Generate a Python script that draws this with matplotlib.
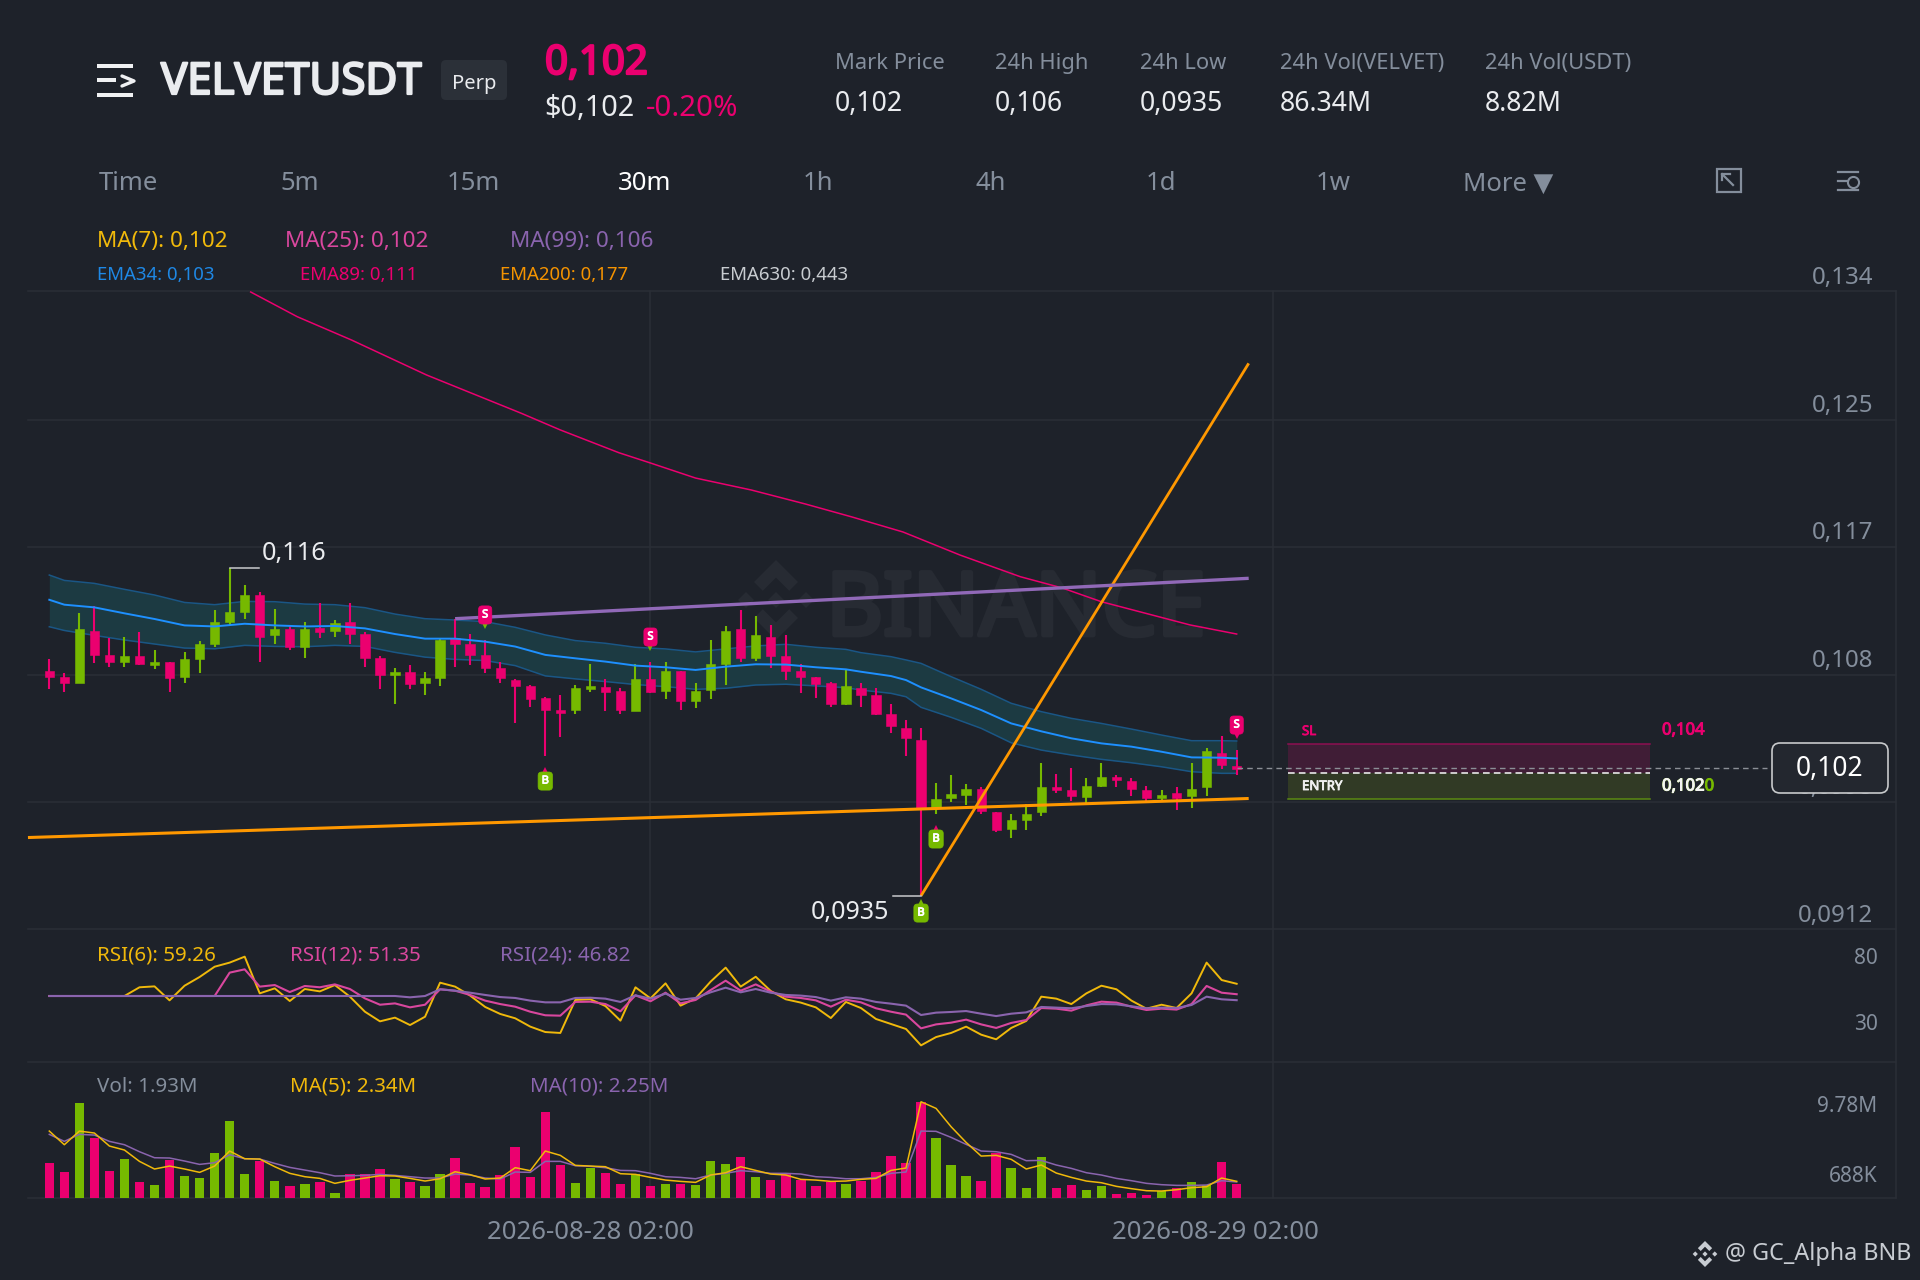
import numpy as np
import matplotlib
matplotlib.use("Agg")
import matplotlib.pyplot as plt
import matplotlib.patheffects as pe
from matplotlib.patches import Polygon, Rectangle, FancyBboxPatch
from matplotlib.transforms import offset_copy

plt.rcParams['font.family'] = ['Noto Sans', 'DejaVu Sans']

BG = '#1E222A'; GRID = '#2A2E36'; GREEN = '#76B900'; RED = '#EB006F'; GREY = '#848E9C'
YEL = '#F0B90B'; PINK = '#D9479E'; PURP = '#8A64AE'; BLUE = '#1E90FF'; ORANGE = '#FF9800'

# ---- candles, prices in thousandths of USDT ----
candle_high = [109.30,108.40,112.39,112.88,110.71,110.80,111.11,109.90,109.12,109.81,110.51,112.61,115.41,114.29,113.80,112.70,111.51,111.80,113.10,111.92,
113.10,111.16,109.50,108.72,108.92,108.43,110.71,112.01,111.01,110.60,109.13,108.01,107.61,106.80,106.89,107.61,109.01,108.01,107.40,109.01,
109.13,109.13,108.52,107.72,110.60,111.52,112.62,112.21,111.61,110.92,109.01,108.12,107.81,108.61,107.72,107.35,106.30,105.20,104.71,101.02,
101.53,100.93,100.71,99.03,98.92,99.61,102.32,101.62,102.00,101.33,102.32,101.53,101.31,100.82,100.53,100.73,102.32,103.32,104.13,103.21]
candle_top = [108.52,108.12,111.31,111.20,109.59,109.52,109.52,109.12,109.12,109.32,110.30,111.80,112.50,113.59,113.59,111.31,111.31,111.31,111.40,111.71,
111.80,111.00,109.41,108.43,108.43,108.02,110.60,110.71,110.31,109.60,108.72,107.92,107.52,106.71,105.90,107.40,107.52,107.43,107.20,108.01,
108.01,108.52,108.52,107.20,109.01,111.21,111.32,110.92,110.83,109.53,108.52,108.12,107.72,107.52,107.40,106.90,105.61,104.71,103.91,99.92,
100.24,100.62,100.62,99.03,98.51,98.92,100.73,100.73,100.53,100.82,101.42,101.42,101.13,100.53,100.21,100.33,100.62,103.12,103.01,102.12]
candle_bottom = [108.12,107.71,107.71,109.61,109.12,109.12,109.01,108.92,108.02,108.12,109.32,110.30,111.80,112.50,110.82,110.91,110.13,110.13,111.13,111.20,
111.02,109.41,108.22,108.22,107.62,107.71,108.02,110.33,109.62,108.72,108.03,107.52,106.62,105.90,105.70,105.90,107.31,107.11,105.90,105.81,
107.11,107.20,106.51,106.51,107.22,109.01,109.42,109.42,109.53,108.52,108.12,107.63,106.31,106.31,106.91,105.63,104.85,104.04,99.32,99.32,
100.01,100.21,99.12,97.82,97.93,98.51,99.03,100.53,100.12,100.03,100.82,101.22,100.62,100.01,100.01,100.01,100.12,100.73,102.21,101.91]
candle_low = [107.33,107.13,107.71,109.03,108.81,108.81,108.92,108.63,107.13,107.71,108.40,110.13,111.60,112.01,109.12,110.33,109.92,109.41,110.71,110.82,
110.33,108.81,107.33,106.30,107.33,106.90,107.51,108.81,108.93,108.41,107.72,105.03,106.11,102.84,104.11,105.61,107.11,105.81,105.61,105.81,
107.02,106.62,105.90,106.02,106.62,107.61,109.13,109.22,108.72,107.92,107.02,106.71,106.11,106.22,106.11,105.54,104.33,102.83,93.43,98.92,
99.72,99.52,98.92,97.73,97.30,97.82,98.80,100.33,99.81,99.52,100.73,100.73,100.12,99.81,99.81,99.21,99.32,100.12,101.91,101.51]
candle_dir = list("RRGRRGRGRGGGGGRGRGRG" "RRRGRGGRRRRRRRRGGRRG" "RGRGGGRGRRRRRGRRRRRG" "GGRRGGGRRGGRRRGRGGRR")

# ---- EMA34 and its band, read at these candles ----
ema_idx = [0,1,3,5,7,9,11,13,15,17,19,21,23,25,27,29,31,33,35,37,39,41,43,45,47,49,51,53,54,56,57,58,60,62,64,66,68,70,72,74,76,78,79]
ema34_up = [114.96,114.60,114.40,114.00,113.62,113.12,112.97,113.19,113.17,113.01,112.97,112.77,112.34,112.03,111.94,111.83,111.45,110.94,110.56,110.38,110.11,110.00,109.80,110.00,110.20,110.31,110.11,109.97,109.75,109.48,109.26,109.03,108.14,107.29,106.35,105.79,105.34,105.00,104.62,104.22,103.84,103.84,103.82]
ema34_mid = [113.30,112.97,112.79,112.39,112.01,111.58,111.51,111.69,111.58,111.51,111.54,111.38,111.00,110.69,110.69,110.49,110.16,109.60,109.37,109.15,108.88,108.77,108.59,108.81,108.97,108.95,108.77,108.63,108.47,108.18,107.91,107.42,106.68,105.90,105.00,104.47,104.00,103.66,103.44,103.10,102.72,102.70,102.65]
ema34_low = [111.49,111.24,110.91,110.60,110.33,110.06,110.01,110.24,110.17,110.15,110.24,110.17,109.77,109.45,109.30,109.22,108.88,108.19,107.99,107.81,107.61,107.47,107.29,107.36,107.58,107.63,107.52,107.40,107.24,107.02,106.79,106.08,105.41,104.67,103.70,103.21,102.88,102.59,102.36,102.09,101.76,101.65,101.65]

# ---- EMA89 ----
ema89_idx = [13.4,16.5,20.1,25.1,31.4,34.0,37.9,40.0,43.0,46.7,50.3,53.4,56.8,60.6,64.6,67.4,70.0,75.9,79.0]
ema89_val = [133.96,132.30,130.74,128.39,125.82,124.70,123.17,122.48,121.47,120.67,119.73,118.86,117.85,116.30,114.85,114.09,113.17,111.61,111.00]

# ---- drawn trend lines: candle position, price ----
trend_a_x = [-1.42, 79.8]; trend_a_y = [97.34, 99.96]
trend_b_x = [58, 79.8];    trend_b_y = [93.43, 129.17]
trend_c_x = [27, 79.8];    trend_c_y = [112.03, 114.74]

# ---- RSI ----
rsi6 = [50,50,50,50,50,50,56.6,57.3,46.7,57.8,64.4,72.2,75.3,79.8,52,55.8,46.2,55.3,53.5,58.3,
49.5,38.1,30.8,33.6,28,34.3,60.1,57.1,50.3,41.7,36.4,33.1,26.8,22.7,22,47,47.5,42.4,31.3,56.6,
48.2,59.6,42.7,48.2,60.9,71.5,57.1,64.6,53.8,47.5,45,41.4,33.3,45.5,40.9,32.6,28.8,25,12.6,18.9,
22,26.8,20.7,17.2,25.8,31.1,49.5,48,43.9,52,57.8,55.1,46.5,40.4,43.4,40.9,52,75.3,62.1,59.26]
rsi12 = [50,50,50,50,50,50,50,50,50,50,50,50,67.7,70.2,57.1,58.3,53,57.6,56.6,58.8,
55.3,48.2,43.4,44.4,41.4,43.4,55.1,54,50.8,46.5,43.9,41.9,38.1,35.4,35.1,45.5,45.7,43.9,38.4,50.5,
46,52.5,44.4,47,54.5,61.6,54,58.8,53.3,49.5,48.5,46.7,41.9,47.2,45.2,40.7,38.1,35.9,25.5,28.5,
29.8,32.1,28.5,25.8,29.6,31.8,40.9,40.4,38.9,42.9,45.7,45,41.9,39.4,40.4,39.7,43.9,57.6,52.5,51.35]
rsi24 = [50,50,50,50,50,50,50,50,50,50,50,50,50,50,50,50,50,50,50,50,
50,50,50,50,49,50,55.1,54,52.5,50.8,49.2,48.5,46.5,45.2,45.2,48.5,48.7,48,45.5,50.5,
48,51.8,47.2,48.5,52.8,56.3,52.8,55.3,52.5,50.8,50.3,49.2,46.5,49,48,45.5,44.2,42.7,35.6,37.4,
37.9,38.6,36.6,34.8,36.6,37.6,41.7,41.2,40.7,42.4,43.9,43.7,42.2,40.7,41.2,40.9,43.2,49.5,47.5,46.82]

# ---- volume, millions ----
volume = [4.95,3.67,13.48,8.48,3.81,5.52,2.19,1.81,5.43,3.10,2.81,6.38,10.95,3.33,5.29,2.33,1.67,1.95,2.24,0.67,
3.43,3.38,4.10,2.71,2.19,1.67,3.33,5.71,2.10,1.48,3.19,7.24,2.95,12.19,4.67,2.10,4.29,3.52,1.90,3.33,
1.67,1.90,2.00,1.81,5.19,4.76,5.76,2.95,2.57,3.33,2.57,1.71,2.29,1.95,2.43,3.67,5.95,4.95,13.71,8.52,
4.62,3.05,2.33,6.33,4.29,1.38,5.76,1.43,1.81,1.10,1.71,0.57,0.71,0.38,0.95,1.33,2.19,1.81,5.10,1.93]
vol_ma5 = [9.52,7.57,9.52,9.24,7.38,6.81,5.19,4.10,4.52,4.10,3.62,4.52,6.67,5.57,5.52,4.43,3.48,3.00,2.76,2.05,
2.48,2.81,3.14,3.10,2.76,2.38,2.71,3.71,3.29,2.67,2.81,4.29,3.86,6.67,6.05,4.62,4.52,4.43,3.43,3.33,
2.90,2.52,2.33,2.19,3.24,3.57,4.43,3.90,3.38,3.24,2.62,2.52,2.33,2.38,2.62,2.76,3.90,4.24,13.71,12.76,
10.14,7.90,5.95,6.05,5.48,4.10,4.67,3.52,2.90,2.38,2.14,1.62,1.29,1.00,0.95,1.14,1.43,1.57,2.81,2.34]
vol_ma10 = [9.05,8.05,9.05,8.95,8.05,7.57,6.57,5.71,5.67,5.24,4.76,5.00,6.14,5.57,5.52,4.90,4.33,3.95,3.57,3.10,
3.14,3.19,3.33,3.19,3.00,2.81,2.81,3.38,3.24,2.81,2.67,3.67,3.62,5.19,5.19,4.57,4.48,4.29,3.90,3.86,
3.48,3.00,2.90,2.71,3.24,3.48,3.86,3.71,3.48,3.48,3.38,3.00,2.90,2.71,2.71,2.90,3.48,3.67,9.52,9.48,
8.62,7.62,6.67,6.57,6.19,5.29,5.33,4.67,4.19,3.57,3.24,2.76,2.43,2.05,1.86,1.76,1.76,1.81,2.43,2.25]

# ---- axis tick labels ----
price_ticks = [134, 125.44, 116.88, 108.32, 99.76, 91.2]
price_labels = ['0,134', '0,125', '0,117', '0,108', '0,0998', '0,0912']
rsi_ticks = [80, 30]
vol_labels = [('9.78M', 1104), ('688K', 1174)]

# ---- signals: candle, price ----
sell_marks = [(29, 112.28, GREEN), (40, 110.80, GREEN), (79, 104.89, RED)]
buy_marks = [(33, 101.13, RED), (59, 97.24, RED), (58, 92.27, GREEN)]

# position box prices
sl_price, entry_price, tp_price = 103.62, 101.67, 99.91
last_price = 102.03

W, H = 1920, 1280
X0, X1 = 28, 1896
YT, YM, YR, YB = 291.4, 929, 1062, 1197.7
fig = plt.figure(figsize=(19.2, 12.8), dpi=100, facecolor=BG)

def mk(top, bot, z):
    a = fig.add_axes([X0/W, 1-bot/H, (X1-X0)/W, (bot-top)/H], zorder=z, facecolor='none')
    a.set_xlim((X0-49.3)/15.03, (X1-49.3)/15.03)
    for s in a.spines.values():
        s.set_visible(False)
    a.set_xticks([]); a.set_yticks([])
    return a

def heavy(c, w=0.9):
    return [pe.withStroke(linewidth=w, foreground=c)]

# background layer in pixels (grid and watermark)
bg = fig.add_axes([0, 0, 1, 1], zorder=0, facecolor=BG)
bg.set_xlim(0, W); bg.set_ylim(H, 0); bg.axis('off')

ax = mk(YT, YM, 2); ax.set_ylim(91.2, 134)
rx = mk(YM, YR, 2); rx.set_ylim(0, 100.76)
vx = mk(YR, YB, 2); vx.set_ylim(0, 19.39)

ov = fig.add_axes([0, 0, 1, 1], zorder=5, facecolor='none')
ov.set_xlim(0, W); ov.set_ylim(H, 0); ov.axis('off')

for y in [YT, 420, 547, 675, 802, YM, YR, YB]:
    bg.plot([X0, X1], [y, y], color=GRID, lw=1.1)
for x in [650, 1273, X1]:
    bg.plot([x, x], [YT, YB], color=GRID, lw=1.1)

def logo(a, cx, cy, s, color, z=1):
    def d(x, y, h):
        a.add_patch(Polygon([(cx+(x-h)*s, cy+y*s), (cx+x*s, cy+(y-h)*s), (cx+(x+h)*s, cy+y*s), (cx+x*s, cy+(y+h)*s)], fc=color, ec='none', zorder=z))
    d(0, 0, .2); d(-.75, 0, .2); d(.75, 0, .2)
    for sg in (1, -1):
        pts = [(-.55, .45), (0, 1), (.55, .45), (.33, .23), (0, .56), (-.33, .23)]
        a.add_patch(Polygon([(cx+p*s, cy+sg*q*s) for p, q in pts], fc=color, ec='none', zorder=z))

logo(bg, 776, 600, 40, '#272B33')
bg.text(1016, 612, 'BINANCE', color='#272B33', fontsize=63, ha='center', va='center',
        path_effects=heavy('#272B33', 3.5))

# candles
n = np.arange(len(candle_high))
for i in n:
    c = GREEN if candle_dir[i] == 'G' else RED
    ax.plot([i, i], [candle_low[i], candle_high[i]], color=c, lw=1.5, solid_capstyle='butt', zorder=4)
    ax.add_patch(Rectangle((i-.31, candle_bottom[i]), .62, candle_top[i]-candle_bottom[i], fc=c, ec=c, lw=.4, zorder=4))

# EMA band and lines
ax.fill_between(ema_idx, ema34_low, ema34_up, color='#1C3A42', lw=0, zorder=2)
ax.plot(ema_idx, ema34_up, color='#1A5685', lw=1.1, zorder=3)
ax.plot(ema_idx, ema34_low, color='#1A5685', lw=1.1, zorder=3)
ax.plot(ema_idx, ema34_mid, color=BLUE, lw=1.4, zorder=5)
ax.plot(ema89_idx, ema89_val, color=RED, lw=1.1, zorder=3)

ax.plot(trend_a_x, trend_a_y, color=ORANGE, lw=2.2, zorder=6, solid_capstyle='butt', clip_on=False)
ax.plot(trend_b_x, trend_b_y, color=ORANGE, lw=2.0, zorder=6, solid_capstyle='butt')
ax.plot(trend_c_x, trend_c_y, color='#9169B8', lw=2.4, zorder=6, solid_capstyle='butt')

# position tool, placed along the time axis by candle slots
slot = lambda px: (px-49.3)/15.03
ax.add_patch(Rectangle((slot(1288), entry_price), slot(1650)-slot(1288), sl_price-entry_price, fc='#401D36', ec='none', zorder=2))
ax.add_patch(Rectangle((slot(1288), tp_price), slot(1650)-slot(1288), entry_price-tp_price, fc='#313A25', ec='none', zorder=2))
ax.plot([slot(1288), slot(1650)], [sl_price]*2, color='#8E0F52', lw=1.1, zorder=3)
ax.plot([slot(1288), slot(1650)], [tp_price]*2, color='#5C8A12', lw=1.1, zorder=3)
ax.plot([slot(1288), slot(1650)], [entry_price]*2, color='#E8E8E8', lw=1.2, ls=(0, (4, 2.5)), zorder=4)
ax.plot([79, slot(1767)], [last_price]*2, color='#8B8F96', lw=1.0, ls=(0, (4, 3)), zorder=4)

# signal tags
for i, p, tip in sell_marks:
    tr = offset_copy(ax.transData, fig=fig, x=0, y=-7, units='points')
    ax.plot([i], [p], marker='v', ms=6, color=tip, transform=tr, zorder=7, mew=0)
    ax.text(i, p, 'S', color='white', fontsize=8, ha='center', va='center', zorder=8,
            path_effects=heavy('white', .6),
            bbox=dict(boxstyle='round,pad=0.32', fc=RED, ec=RED, lw=.5))
for i, p, tip in buy_marks:
    tr = offset_copy(ax.transData, fig=fig, x=0, y=7, units='points')
    ax.plot([i], [p], marker='^', ms=6, color=tip, transform=tr, zorder=7, mew=0)
    ax.text(i, p, 'B', color='white', fontsize=8, ha='center', va='center', zorder=8,
            path_effects=heavy('white', .6),
            bbox=dict(boxstyle='round,pad=0.32', fc=GREEN, ec=GREEN, lw=.5))

# high / low annotation
ax.plot([12, 12+1.93], [candle_high[12]]*2, color='#C8CACC', lw=1.1, zorder=6)
ax.plot([58-1.87, 58], [candle_low[58]]*2, color='#C8CACC', lw=1.1, zorder=6)

# RSI
rx.plot(n, rsi6, color=YEL, lw=1.4, zorder=3)
rx.plot(n, rsi12, color=PINK, lw=1.5, zorder=4)
rx.plot(n, rsi24, color=PURP, lw=1.5, zorder=5)

# Volume
for i in n:
    vx.bar(i, volume[i], width=.63, color=GREEN if candle_dir[i] == 'G' else RED, zorder=2)
vx.plot(n, vol_ma5, color=YEL, lw=1.1, zorder=4)
vx.plot(n, vol_ma10, color=PURP, lw=1.1, zorder=3)

# ---- right axis labels ----
def px_text(x, y, s, c=GREY, fs=15, ha='left', va='center', **kw):
    return ov.text(x, y+2.5, s, color=c, fontsize=fs, ha=ha, va=va, **kw)

for v, lab in zip(price_ticks, price_labels):
    ax.annotate(lab, xy=(1, v), xycoords=('axes fraction', 'data'), xytext=(-16.5, 9.5), textcoords='offset points',
                color=GREY, fontsize=17.3, ha='right', va='center', zorder=3)
for v in rsi_ticks:
    rx.annotate(str(v), xy=(1, v), xycoords=('axes fraction', 'data'), xytext=(-13, -1.5), textcoords='offset points',
                color=GREY, fontsize=15, ha='right', va='center')
for lab, y in vol_labels:
    px_text(1877, y, lab, fs=15, ha='right')

# price tag
ov.add_patch(FancyBboxPatch((1772, 743), 116, 50, boxstyle='round,pad=0,rounding_size=8', fc='#23272F', ec='#C8CACC', lw=1.2, zorder=3,
                            mutation_aspect=1))
px_text(1830, 767, '0,102', '#FFFFFF', 19, ha='center', zorder=4)

# position labels
px_text(1302, 729, 'SL', RED, 9.5, path_effects=heavy(RED, .6))
px_text(1302, 784, 'ENTRY', '#F0F0F0', 9.5, path_effects=heavy('#F0F0F0', .6))
px_text(1662, 728, '0,104', RED, 12, path_effects=heavy(RED, .7))
px_text(1662, 784, '0,1020', GREEN, 12, path_effects=heavy(GREEN, .7))
px_text(1662, 784, '0,102', '#F4F4F4', 12, path_effects=heavy('#F4F4F4', .7))

px_text(262, 551, '0,116', '#EAECEF', 18.2)
px_text(889, 910, '0,0935', '#EAECEF', 18, ha='right')

# ---- header ----
for y0, x1 in [(66, 133), (79.5, 116), (94.5, 133)]:
    ov.add_patch(Rectangle((97, y0-2), x1-97, 4, fc='#F0F1F3', ec='none'))
ov.plot([122, 134, 122], [76, 81, 86], color='#F0F1F3', lw=2.4, solid_capstyle='round')
px_text(161, 80.5, 'VELVETUSDT', '#EAECEF', 31.5, path_effects=heavy('#EAECEF', 1.6))
ov.add_patch(FancyBboxPatch((441, 60), 66, 40, boxstyle='round,pad=0,rounding_size=5', fc='#2B3038', ec='none'))
px_text(474, 81.5, 'Perp', '#EAECEF', 14.5, ha='center')
px_text(545, 61.5, '0,102', RED, 29, path_effects=heavy(RED, 1.6))
px_text(544, 106, '$0,102', '#EAECEF', 20.8)
px_text(646, 106, '-0.20%', RED, 21.2)

stat_x = [835, 995, 1140, 1280, 1485]
stat_names = ['Mark Price', '24h High', '24h Low', '24h Vol(VELVET)', '24h Vol(USDT)']
stat_vals = ['0,102', '0,106', '0,0935', '86.34M', '8.82M']
for x, a, b in zip(stat_x, stat_names, stat_vals):
    px_text(x, 61, a, GREY, 15.8)
    px_text(x, 101.5, b, '#EAECEF', 19.2)

tf_x = [99, 280, 447, 618, 803, 975, 1146, 1316, 1463]
tf_names = ['Time', '5m', '15m', '30m', '1h', '4h', '1d', '1w', 'More ▼']
for x, s in zip(tf_x, tf_names):
    px_text(x, 181.5, s, '#FFFFFF' if s == '30m' else GREY, 18.5)

# toolbar icons
ov.add_patch(Rectangle((1717, 169), 24, 23, fc='none', ec=GREY, lw=1.6))
ov.plot([1722, 1733], [174, 185], color=GREY, lw=1.6)
ov.plot([1722, 1722, 1730], [180, 174, 174], color=GREY, lw=1.6)
ov.plot([1838, 1858], [172, 172], color=GREY, lw=1.6)
ov.plot([1838, 1848], [181, 181], color=GREY, lw=1.6)
ov.plot([1838, 1858], [190, 190], color=GREY, lw=1.6)
ov.plot([1853], [182], marker='o', ms=8, mfc=BG, mec=GREY, mew=1.5)

for x, s, c in [(97, 'MA(7): 0,102', YEL), (285, 'MA(25): 0,102', PINK), (510, 'MA(99): 0,106', PURP)]:
    px_text(x, 238.5, s, c, 16.2)
for x, s, c in [(97, 'EMA34: 0,103', '#1E88E5'), (300, 'EMA89: 0,111', RED), (500, 'EMA200: 0,177', '#F59300'), (720, 'EMA630: 0,443', '#C8CCD0')]:
    px_text(x, 272, s, c, 13.4)
for x, s, c in [(97, 'RSI(6): 59.26', YEL), (290, 'RSI(12): 51.35', PINK), (500, 'RSI(24): 46.82', PURP)]:
    px_text(x, 953.5, s, c, 14.8)
for x, s, c in [(97, 'Vol: 1.93M', GREY), (290, 'MA(5): 2.34M', YEL), (530, 'MA(10): 2.25M', PURP)]:
    px_text(x, 1084, s, c, 14.8)

px_text(590, 1230, '2026-08-28 02:00', GREY, 18.5, ha='center')
px_text(1215, 1230, '2026-08-29 02:00', GREY, 18.5, ha='center')

logo(ov, 1705, 1254, 13, '#C8CCD2')
px_text(1725, 1252, '@ GC_Alpha BNB', '#C8CCD2', 16.8)

fig.savefig('out.png', dpi=100, facecolor=BG)
